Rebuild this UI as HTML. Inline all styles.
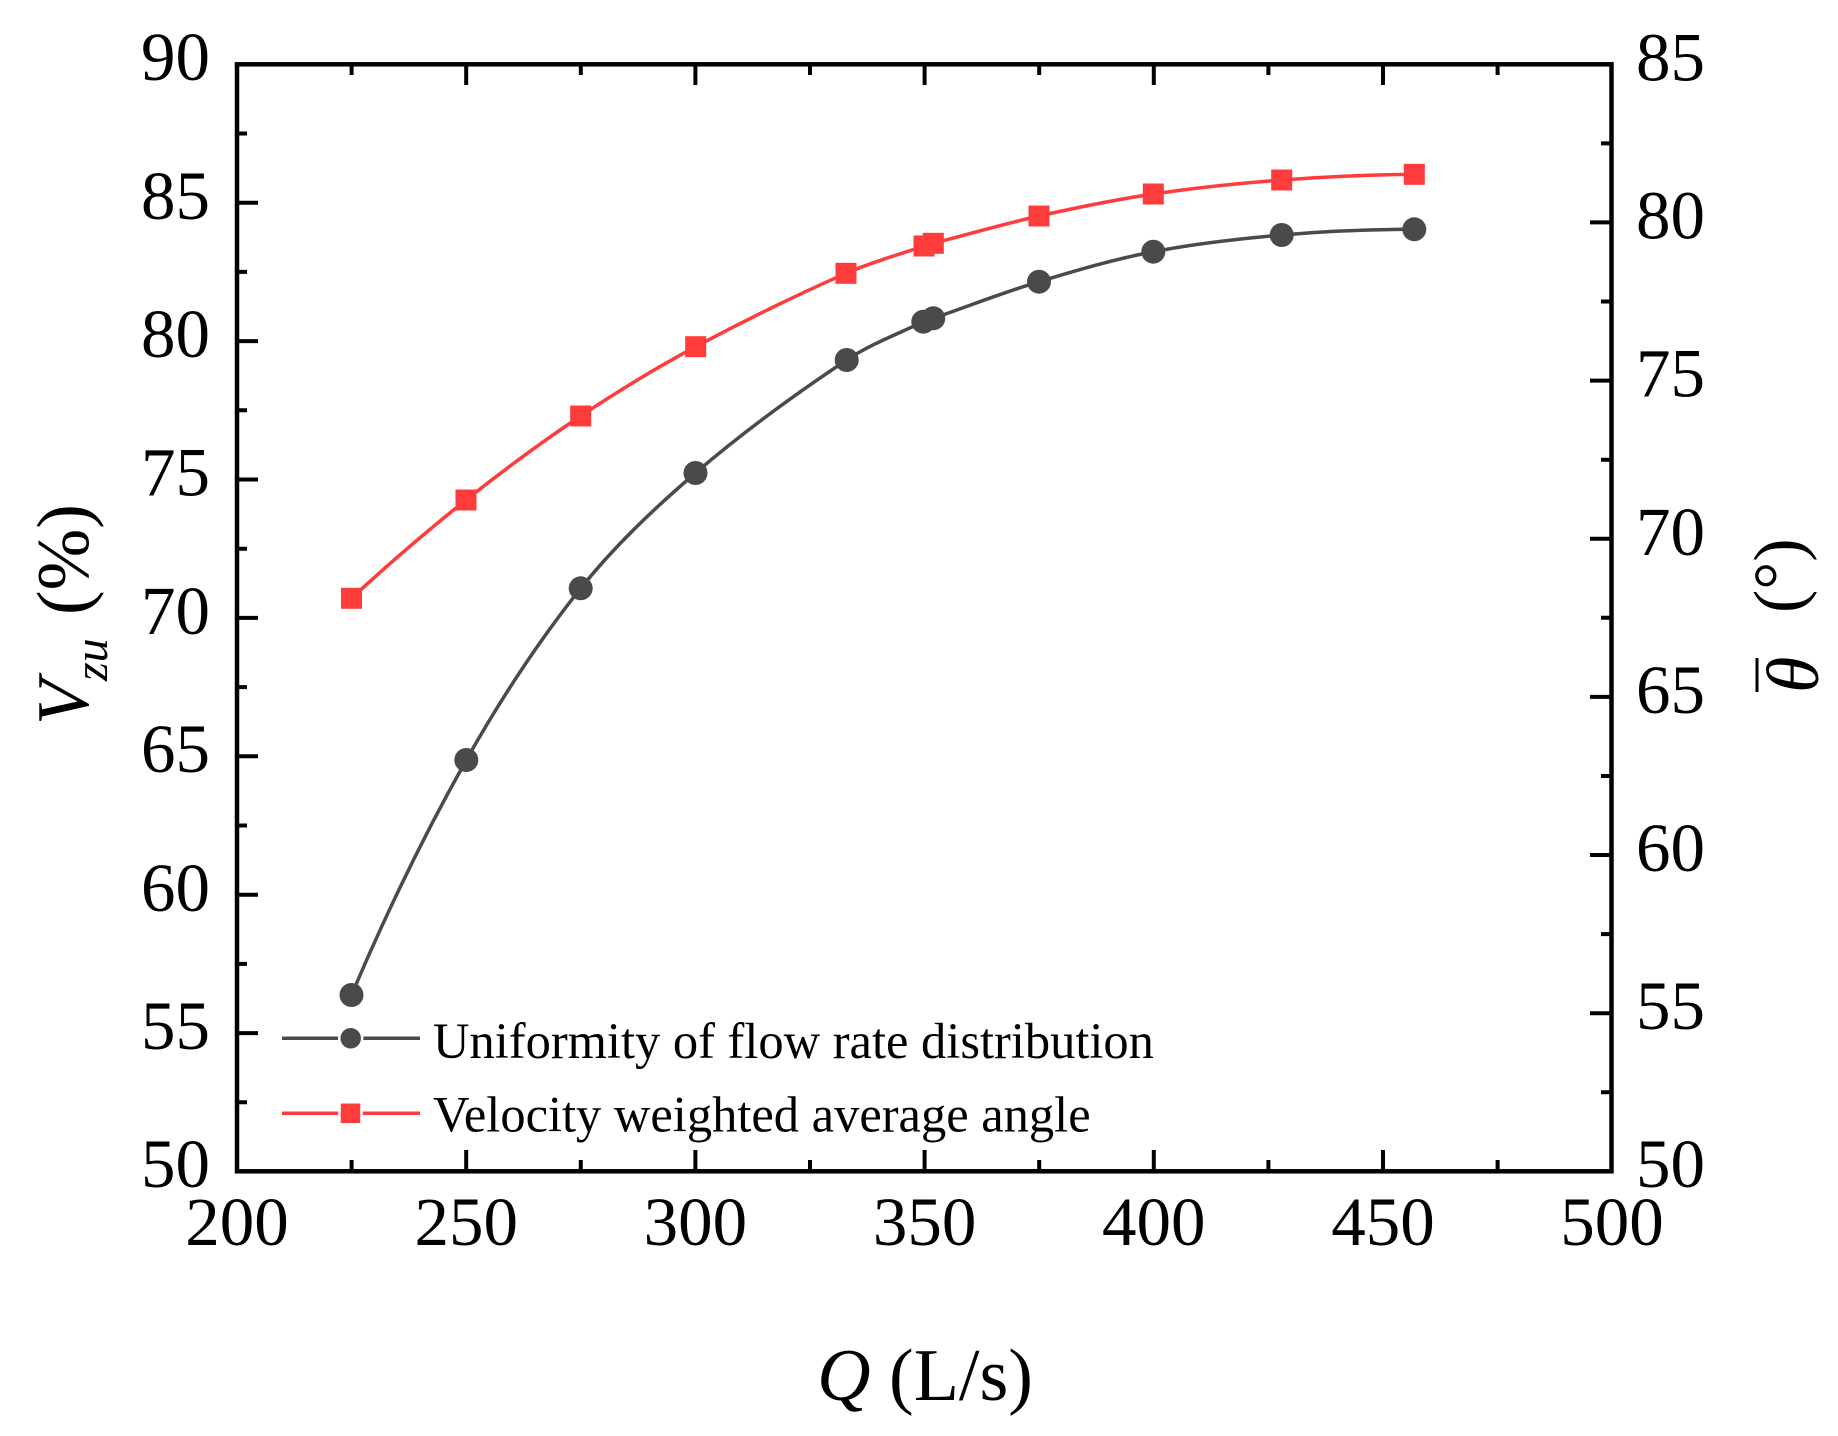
<!DOCTYPE html>
<html>
<head>
<meta charset="utf-8">
<style>
html,body{margin:0;padding:0;background:#fff;}
svg{display:block;}
text{font-family:"Liberation Serif","Times New Roman",serif;fill:#000;}
</style>
</head>
<body>
<svg width="1838" height="1436" viewBox="0 0 1838 1436" xmlns="http://www.w3.org/2000/svg">
<rect x="0" y="0" width="1838" height="1436" fill="#fff"/>

<!-- ticks -->
<g stroke="#000" stroke-width="4" fill="none">
  <path d="M466.2 1171V1150 M695.4 1171V1150 M924.6 1171V1150 M1153.8 1171V1150 M1383 1171V1150"/>
  <path d="M351.6 1171V1160 M580.8 1171V1160 M810 1171V1160 M1039.2 1171V1160 M1268.4 1171V1160 M1497.6 1171V1160"/>
  <path d="M466.2 64V85 M695.4 64V85 M924.6 64V85 M1153.8 64V85 M1383 64V85"/>
  <path d="M351.6 64V75 M580.8 64V75 M810 64V75 M1039.2 64V75 M1268.4 64V75 M1497.6 64V75"/>
  <path d="M237 202.7H258 M237 341.1H258 M237 479.5H258 M237 617.9H258 M237 756.3H258 M237 894.7H258 M237 1033.1H258"/>
  <path d="M237 133.5H247 M237 271.9H247 M237 410.3H247 M237 548.7H247 M237 687.1H247 M237 825.5H247 M237 963.9H247 M237 1102.3H247"/>
  <path d="M1611.5 222.4H1590 M1611.5 380.6H1590 M1611.5 538.7H1590 M1611.5 696.9H1590 M1611.5 855H1590 M1611.5 1013.2H1590"/>
  <path d="M1611.5 143.4H1601 M1611.5 301.5H1601 M1611.5 459.7H1601 M1611.5 617.8H1601 M1611.5 776H1601 M1611.5 934.1H1601 M1611.5 1092.3H1601"/>
</g>

<!-- frame -->
<rect x="237" y="64.3" width="1374.5" height="1107" fill="none" stroke="#000" stroke-width="4.5"/>

<!-- left tick labels -->
<g font-size="69" text-anchor="end">
  <text x="210" y="80">90</text>
  <text x="210" y="219">85</text>
  <text x="210" y="357">80</text>
  <text x="210" y="495.5">75</text>
  <text x="210" y="634">70</text>
  <text x="210" y="772">65</text>
  <text x="210" y="911">60</text>
  <text x="210" y="1049">55</text>
  <text x="210" y="1187">50</text>
</g>

<!-- right tick labels -->
<g font-size="69" text-anchor="start">
  <text x="1636" y="80.5">85</text>
  <text x="1636" y="238.5">80</text>
  <text x="1636" y="396.5">75</text>
  <text x="1636" y="555">70</text>
  <text x="1636" y="713">65</text>
  <text x="1636" y="871">60</text>
  <text x="1636" y="1029">55</text>
  <text x="1636" y="1187">50</text>
</g>

<!-- bottom tick labels -->
<g font-size="69" text-anchor="middle">
  <text x="237" y="1245">200</text>
  <text x="466.2" y="1245">250</text>
  <text x="695.4" y="1245">300</text>
  <text x="924.6" y="1245">350</text>
  <text x="1153.8" y="1245">400</text>
  <text x="1383" y="1245">450</text>
  <text x="1612" y="1245">500</text>
</g>

<!-- x axis title -->
<text x="925" y="1400" font-size="74" text-anchor="middle"><tspan font-style="italic">Q</tspan> (L/s)</text>

<!-- left axis title -->
<g transform="translate(88,618) rotate(-90)">
  <text x="-107" y="0" font-size="74"><tspan font-style="italic">V</tspan></text>
  <text x="-63" y="19" font-size="48" font-style="italic">zu</text>
  <text x="3" y="0" font-size="74">(%)</text>
</g>

<!-- right axis title -->
<g transform="translate(1802,617) rotate(-90)">
  <text x="-76" y="16" font-size="74" font-style="italic">θ</text>
  <line x1="-75" y1="-45" x2="-41" y2="-45" stroke="#000" stroke-width="3"/>
  <text x="4" y="0" font-size="70">(°)</text>
</g>

<!-- black series -->
<path fill="none" stroke="#4a4a4a" stroke-width="3.5" d="M351.5 995 C385.5 914.8 423.5 836 466.3 760 C500.1 700.1 537.8 642.1 580.7 588.3 C614.5 545.9 654.4 508.3 695.5 473 C743.2 432 794.3 394.8 846.7 360 C870.4 344.2 897.6 334.1 923.3 321.7 C926.5 320.2 930 319.5 933.3 318.3 C968.6 306.1 1003.3 292.5 1039 281.7 C1076.7 270.3 1114.6 259.1 1153.3 251.7 C1195.7 243.5 1238.7 238.7 1281.7 235 C1325.7 231.2 1370.1 229.3 1414.3 229.3"/>
<g fill="#4a4a4a">
  <circle cx="351.5" cy="995" r="12"/>
  <circle cx="466.3" cy="760" r="12"/>
  <circle cx="580.7" cy="588.3" r="12"/>
  <circle cx="695.5" cy="473" r="12"/>
  <circle cx="846.7" cy="360" r="12"/>
  <circle cx="923.3" cy="321.7" r="12"/>
  <circle cx="933.3" cy="318.3" r="12"/>
  <circle cx="1039" cy="281.7" r="12"/>
  <circle cx="1153.3" cy="251.7" r="12"/>
  <circle cx="1281.7" cy="235" r="12"/>
  <circle cx="1414.3" cy="229.3" r="12"/>
</g>

<!-- red series -->
<path fill="none" stroke="#ff3c3c" stroke-width="3.5" d="M351.5 598.3 C388.4 564.1 426.6 531.3 466 500 C503.1 470.5 541.3 442.3 580.7 416 C618 391.1 656.2 367.9 695.7 346.7 C744.8 320.3 794.9 295.8 846 273.3 C871.2 262.2 898 254.9 924 246 C927.1 245 930.2 244.1 933.3 243.3 C968.5 234.1 1003.5 224 1039 216 C1076.9 207.5 1114.9 199.7 1153.3 194 C1195.9 187.7 1238.7 183.2 1281.7 180 C1325.8 176.7 1370.1 174.8 1414.3 174.3"/>
<g fill="#ff3c3c">
  <rect x="341" y="587.8" width="21" height="21"/>
  <rect x="455.5" y="489.5" width="21" height="21"/>
  <rect x="570.2" y="405.5" width="21" height="21"/>
  <rect x="685.2" y="336.2" width="21" height="21"/>
  <rect x="835.5" y="262.8" width="21" height="21"/>
  <rect x="913.5" y="235.5" width="21" height="21"/>
  <rect x="922.8" y="232.8" width="21" height="21"/>
  <rect x="1028.5" y="205.5" width="21" height="21"/>
  <rect x="1142.8" y="183.5" width="21" height="21"/>
  <rect x="1271.2" y="169.5" width="21" height="21"/>
  <rect x="1403.8" y="163.8" width="21" height="21"/>
</g>

<!-- legend -->
<line x1="282" y1="1038.3" x2="420" y2="1038.3" stroke="#4a4a4a" stroke-width="3.5"/>
<circle cx="350.7" cy="1038.3" r="11.5" fill="#4a4a4a" stroke="#fff" stroke-width="2.5"/>
<line x1="282" y1="1113.3" x2="420" y2="1113.3" stroke="#ff3c3c" stroke-width="3.5"/>
<rect x="339.5" y="1102.3" width="22" height="22" fill="#ff3c3c" stroke="#fff" stroke-width="2.5"/>
<text x="433" y="1058" font-size="50.5">Uniformity of flow rate distribution</text>
<text x="433" y="1131.5" font-size="50.5">Velocity weighted average angle</text>
</svg>
</body>
</html>
